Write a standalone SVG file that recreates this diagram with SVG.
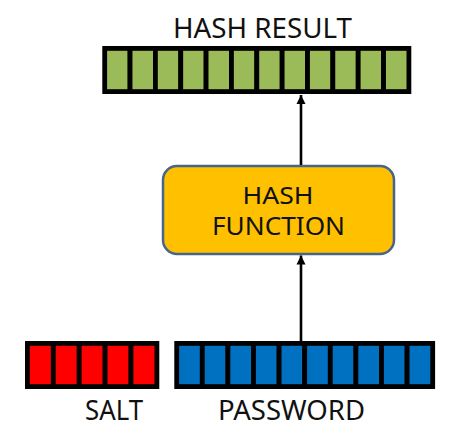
<svg xmlns="http://www.w3.org/2000/svg" width="474" height="442" viewBox="0 0 474 442">
<defs>
<style>
.cell{stroke:#000;stroke-width:4.8}
.g{fill:#9BBB59}
.r{fill:#FF0000}
.b{fill:#0070C0}
.lbl{font-family:"Noto Sans","Open Sans","DejaVu Sans",sans-serif;fill:#111;text-anchor:middle}
.conn{stroke:#000;stroke-width:2.6;fill:none}
</style>
<marker id="ah" markerUnits="userSpaceOnUse" markerWidth="10" markerHeight="10" viewBox="0 0 10 10" refX="9" refY="5" orient="auto">
<path d="M0,0.5 L9,5 L0,9.5 Z" fill="#000"/>
</marker>
</defs>
<rect width="474" height="442" fill="#fff"/>
<g id="hash-result">
<rect class="cell g" x="104.7" y="48.4" width="25.35" height="43.2"/>
<rect class="cell g" x="130.05" y="48.4" width="25.35" height="43.2"/>
<rect class="cell g" x="155.4" y="48.4" width="25.35" height="43.2"/>
<rect class="cell g" x="180.75" y="48.4" width="25.35" height="43.2"/>
<rect class="cell g" x="206.1" y="48.4" width="25.35" height="43.2"/>
<rect class="cell g" x="231.45" y="48.4" width="25.35" height="43.2"/>
<rect class="cell g" x="256.8" y="48.4" width="25.35" height="43.2"/>
<rect class="cell g" x="282.15" y="48.4" width="25.35" height="43.2"/>
<rect class="cell g" x="307.5" y="48.4" width="25.35" height="43.2"/>
<rect class="cell g" x="332.85" y="48.4" width="25.35" height="43.2"/>
<rect class="cell g" x="358.2" y="48.4" width="25.35" height="43.2"/>
<rect class="cell g" x="383.55" y="48.4" width="25.35" height="43.2"/>
<text class="lbl" x="262.5" y="38" font-size="28" textLength="179" lengthAdjust="spacingAndGlyphs">HASH RESULT</text>
</g>
<g id="hash-function">
<rect x="163" y="166" width="231" height="88" rx="14" ry="14" fill="#FFC000" stroke="#46658A" stroke-width="2.5"/>
<text class="lbl" x="278" y="203.5" font-size="24" textLength="71" lengthAdjust="spacingAndGlyphs">HASH</text>
<text class="lbl" x="278.5" y="235" font-size="25" textLength="133" lengthAdjust="spacingAndGlyphs">FUNCTION</text>
</g>
<g id="salt">
<rect class="cell r" x="27.4" y="343.4" width="25.9" height="43.2"/>
<rect class="cell r" x="53.3" y="343.4" width="25.9" height="43.2"/>
<rect class="cell r" x="79.2" y="343.4" width="25.9" height="43.2"/>
<rect class="cell r" x="105.1" y="343.4" width="25.9" height="43.2"/>
<rect class="cell r" x="131" y="343.4" width="25.9" height="43.2"/>
<text class="lbl" x="114" y="420" font-size="28" textLength="58" lengthAdjust="spacingAndGlyphs">SALT</text>
</g>
<g id="password">
<rect class="cell b" x="176.7" y="343.4" width="25.6" height="43.2"/>
<rect class="cell b" x="202.3" y="343.4" width="25.6" height="43.2"/>
<rect class="cell b" x="227.9" y="343.4" width="25.6" height="43.2"/>
<rect class="cell b" x="253.5" y="343.4" width="25.6" height="43.2"/>
<rect class="cell b" x="279.1" y="343.4" width="25.6" height="43.2"/>
<rect class="cell b" x="304.7" y="343.4" width="25.6" height="43.2"/>
<rect class="cell b" x="330.3" y="343.4" width="25.6" height="43.2"/>
<rect class="cell b" x="355.9" y="343.4" width="25.6" height="43.2"/>
<rect class="cell b" x="381.5" y="343.4" width="25.6" height="43.2"/>
<rect class="cell b" x="407.1" y="343.4" width="25.6" height="43.2"/>
<text class="lbl" x="291.5" y="420" font-size="28" textLength="147" lengthAdjust="spacingAndGlyphs">PASSWORD</text>
</g>
<g id="connectors">
<line class="conn" x1="301" y1="165" x2="301" y2="95" marker-end="url(#ah)"/>
<line class="conn" x1="301" y1="343" x2="301" y2="255.5" marker-end="url(#ah)"/>
</g>
</svg>
